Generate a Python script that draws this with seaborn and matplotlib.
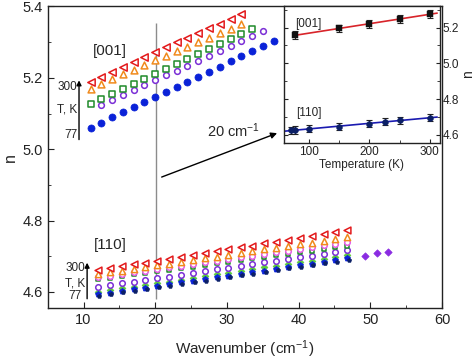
import numpy as np
import pandas as pd
import matplotlib
matplotlib.use("Agg")
import matplotlib.pyplot as plt
import seaborn as sns
from matplotlib.ticker import MultipleLocator

# ---------------- data ----------------
# [001] direction, wavenumber grid (cm^-1)
x001 = [11.0, 12.5, 14.0, 15.5, 17.0, 18.5, 20.0, 21.5, 23.0, 24.5,
        26.0, 27.5, 29.0, 30.5, 32.0, 33.5, 35.0, 36.5]
n001_300K = [5.188, 5.203, 5.217, 5.231, 5.245, 5.259, 5.273, 5.287, 5.300, 5.313,
             5.326, 5.339, 5.352, 5.365, 5.378]
n001_250K = [5.170, 5.184, 5.197, 5.210, 5.223, 5.236, 5.249, 5.262, 5.275, 5.287,
             5.300, 5.312, 5.325, 5.337, 5.350]
n001_200K = [5.128, 5.142, 5.156, 5.170, 5.184, 5.198, 5.212, 5.226, 5.240, 5.254,
             5.268, 5.282, 5.295, 5.309, 5.322, 5.336]
n001_150K = [5.123, 5.137, 5.151, 5.165, 5.179, 5.193, 5.207, 5.220, 5.234, 5.248,
             5.261, 5.275, 5.289, 5.302, 5.316, 5.330]
n001_77K = [5.060, 5.074, 5.089, 5.103, 5.117, 5.131, 5.146, 5.160, 5.174, 5.189,
            5.203, 5.217, 5.231, 5.246, 5.260, 5.274, 5.289, 5.303]

# [110] direction
x110 = [12.0, 13.7, 15.3, 17.0, 18.6, 20.3, 21.9, 23.6, 25.3, 26.9, 28.6,
        30.2, 31.9, 33.5, 35.2, 36.9, 38.5, 40.2, 41.8, 43.5, 45.1, 46.8]
n110_300K = [4.661, 4.666, 4.672, 4.677, 4.682, 4.688, 4.693, 4.698, 4.704, 4.709, 4.714,
             4.720, 4.725, 4.730, 4.736, 4.741, 4.746, 4.752, 4.757, 4.762, 4.768, 4.773]
n110_250K = [4.650, 4.655, 4.660, 4.665, 4.670, 4.675, 4.679, 4.684, 4.689, 4.694, 4.699,
             4.704, 4.709, 4.714, 4.719, 4.724, 4.728, 4.733, 4.738, 4.743, 4.748, 4.753]
n110_225K = [4.641, 4.646, 4.650, 4.655, 4.660, 4.665, 4.669, 4.674, 4.679, 4.683, 4.688,
             4.693, 4.698, 4.702, 4.707, 4.712, 4.716, 4.721, 4.726, 4.731, 4.735, 4.740]
n110_200K = [4.635, 4.640, 4.644, 4.649, 4.653, 4.658, 4.662, 4.667, 4.671, 4.676, 4.680,
             4.685, 4.689, 4.694, 4.698, 4.703, 4.707, 4.712, 4.716, 4.721, 4.725, 4.730]
n110_150K = [4.614, 4.619, 4.624, 4.629, 4.634, 4.639, 4.643, 4.648, 4.653, 4.658, 4.663,
             4.668, 4.673, 4.678, 4.683, 4.688, 4.692, 4.697, 4.702, 4.707, 4.712, 4.717]
n110_100K = [4.600, 4.605, 4.610, 4.615, 4.620, 4.625, 4.629, 4.634, 4.639, 4.644, 4.649,
             4.654, 4.659, 4.664, 4.669, 4.674, 4.678, 4.683, 4.688, 4.693, 4.698, 4.703]
n110_77K = [4.593, 4.598, 4.603, 4.607, 4.612, 4.617, 4.622, 4.627, 4.631, 4.636, 4.641,
            4.646, 4.651, 4.655, 4.660, 4.665, 4.670, 4.675, 4.679, 4.684, 4.689, 4.694]
x110_ext = [49.3, 50.9, 52.5]
n110_ext = [4.700, 4.708, 4.712]

# inset: n at 20 cm^-1 vs temperature
T001 = [77, 150, 200, 250, 300]
n20_001 = [5.158, 5.195, 5.218, 5.250, 5.275]
T110 = [70, 77, 100, 150, 200, 225, 250, 300]
n20_110 = [4.625, 4.627, 4.634, 4.645, 4.663, 4.673, 4.682, 4.696]
err001 = 0.022
err110 = 0.02

# ---------------- style ----------------
sns.set_style("ticks")
plt.rcParams['font.family'] = ['Liberation Sans', 'DejaVu Sans']
plt.rcParams['mathtext.default'] = 'regular'
plt.rcParams['axes.edgecolor'] = '#222222'
plt.rcParams['axes.linewidth'] = 1.0

RED = '#e31a1c'
ORANGE = '#f08a1c'
PINK = '#e65ce6'
GREEN = '#1f8a2a'
PURPLE = '#7b2fd6'
LGREEN = '#5ccc3a'
BLUE = '#0a22d8'
NAVY = '#0b1f66'

fig = plt.figure(figsize=(4.74, 3.60), dpi=100)
ax = fig.add_axes([0.1006, 0.1444, 0.8319, 0.8376])


def pts(ax, x, y, marker, color, s, open_=True, lw=1.1, z=3):
    if open_:
        sns.scatterplot(x=x, y=y, ax=ax, marker=marker, s=s, facecolor='white',
                        edgecolor=color, linewidth=lw, zorder=z, legend=False)
    else:
        sns.scatterplot(x=x, y=y, ax=ax, marker=marker, s=s, facecolor=color,
                        edgecolor=color, linewidth=0.5, zorder=z, legend=False)


# [001]
pts(ax, x001[:len(n001_77K)], n001_77K, 'o', BLUE, 26, open_=False)
pts(ax, x001[1:1 + len(n001_150K)], n001_150K, 'o', PURPLE, 17)
pts(ax, x001[:len(n001_200K)], n001_200K, 's', GREEN, 15)
pts(ax, x001[:len(n001_250K)], n001_250K, '^', ORANGE, 24)
pts(ax, x001[:len(n001_300K)], n001_300K, '<', RED, 28)

# [110]
pts(ax, x110, n110_100K, 'D', LGREEN, 12, open_=False)
pts(ax, x110, n110_77K, 'p', BLUE, 20, open_=False)
pts(ax, [v + 0.2 for v in x110], [v - 0.004 for v in n110_77K], 'p', NAVY, 10, open_=False)
pts(ax, x110, n110_150K, 'o', PURPLE, 16)
pts(ax, x110, n110_200K, 's', GREEN, 12)
pts(ax, x110, n110_225K, 'o', PINK, 16)
pts(ax, x110, n110_250K, '^', ORANGE, 20)
pts(ax, x110, n110_300K, '<', RED, 24)
pts(ax, x110_ext, n110_ext, 'D', '#8a2be2', 14, open_=False)

ax.vlines(20.05, 4.581, 5.353, color='#8c8c8c', lw=1.0, zorder=2)

ax.set_xlim(5, 60)
ax.set_ylim(4.555, 5.4)
ax.xaxis.set_major_locator(MultipleLocator(10))
ax.xaxis.set_minor_locator(MultipleLocator(5))
ax.yaxis.set_major_locator(MultipleLocator(0.2))
ax.yaxis.set_minor_locator(MultipleLocator(0.1))
ax.yaxis.set_major_formatter(matplotlib.ticker.FormatStrFormatter('%.1f'))
ax.tick_params(which='both', direction='in', labelsize=10.5, colors='#222222')
ax.tick_params(which='major', length=4)
ax.tick_params(which='minor', length=2.5)
ax.set_xlabel('Wavenumber (cm$^{-1}$)', fontsize=11, labelpad=8)
ax.set_ylabel('n', fontsize=11.5)
ax.yaxis.set_label_coords(-0.075, 0.5)

# labels and arrows
ax.text(13.7, 5.275, '[001]', fontsize=11, ha='center', va='center')
ax.text(13.7, 4.731, '[110]', fontsize=11, ha='center', va='center')
ax.text(30.9, 5.052, '20 cm$^{-1}$', fontsize=10.5, ha='center', va='center')
ax.annotate('', xy=(37.0, 5.045), xytext=(20.9, 4.922),
            arrowprops=dict(arrowstyle='-|>', color='black', lw=1.0,
                            mutation_scale=9, shrinkA=0, shrinkB=0))

for xl, (ytop, ybot), ys, xt, ha in [
        (9.37, (5.193, 5.027), (5.175, 5.111, 5.041), 9.15, 'right'),
        (10.5, (4.682, 4.581), (4.668, 4.625, 4.588), 8.8, 'center')]:
    ax.annotate('', xy=(xl, ytop), xytext=(xl, ybot),
                arrowprops=dict(arrowstyle='-|>', color='black', lw=1.0,
                                mutation_scale=7, shrinkA=0, shrinkB=0))
    for txt, yy in zip(['300', 'T, K', '77'], ys):
        ax.text(xt, yy, txt, fontsize=8.5, ha=ha, va='center')

# ---------------- inset ----------------
ins = fig.add_axes([0.599, 0.603, 0.329, 0.380])
ins.set_facecolor('white')
df001 = pd.DataFrame({'T': T001, 'n': n20_001})
df110 = pd.DataFrame({'T': T110, 'n': n20_110})
p001 = np.polyfit(T001, n20_001, 1)
p110 = np.polyfit(T110, n20_110, 1)
Tf1 = [77, 312]
Tf2 = [60, 312]
sns.lineplot(x=Tf1, y=np.polyval(p001, Tf1), ax=ins, color='#d8242a', lw=1.2, zorder=2)
sns.lineplot(x=Tf2, y=np.polyval(p110, Tf2), ax=ins, color='#1a1ab0', lw=1.2, zorder=2)
ins.errorbar(T001, n20_001, yerr=err001, fmt='none', ecolor='#222222',
             elinewidth=0.8, capsize=2.2, capthick=0.8, zorder=3)
ins.errorbar(T110, n20_110, yerr=err110, fmt='none', ecolor='#222222',
             elinewidth=0.8, capsize=2.2, capthick=0.8, zorder=3)
sns.scatterplot(data=df001, x='T', y='n', ax=ins, marker='s', s=16,
                color='#111111', edgecolor='#111111', zorder=4, legend=False)
sns.scatterplot(data=df110, x='T', y='n', ax=ins, marker='o', s=18,
                color=NAVY, edgecolor=NAVY, zorder=4, legend=False)
ins.text(99, 5.222, '[001]', fontsize=8.5, ha='center', va='center')
ins.text(100, 4.72, '[110]', fontsize=8.5, ha='center', va='center')
ins.set_xlim(58.7, 316.5)
ins.set_ylim(4.555, 5.32)
ins.xaxis.set_major_locator(MultipleLocator(100))
ins.xaxis.set_minor_locator(MultipleLocator(50))
ins.yaxis.set_major_locator(MultipleLocator(0.2))
ins.yaxis.set_minor_locator(MultipleLocator(0.1))
ins.yaxis.set_major_formatter(matplotlib.ticker.FormatStrFormatter('%.1f'))
ins.yaxis.tick_right()
ins.yaxis.set_label_position('right')
ins.tick_params(which='both', direction='in', labelsize=8.5, left=True, right=True,
                colors='#222222', pad=2)
ins.tick_params(which='major', length=3)
ins.tick_params(which='minor', length=2)
ins.set_xlabel('Temperature (K)', fontsize=8.5, labelpad=1)
ins.set_ylabel('n', fontsize=10, rotation=90)
ins.yaxis.set_label_coords(1.135, 0.5)

fig.savefig('out.png', dpi=100)
